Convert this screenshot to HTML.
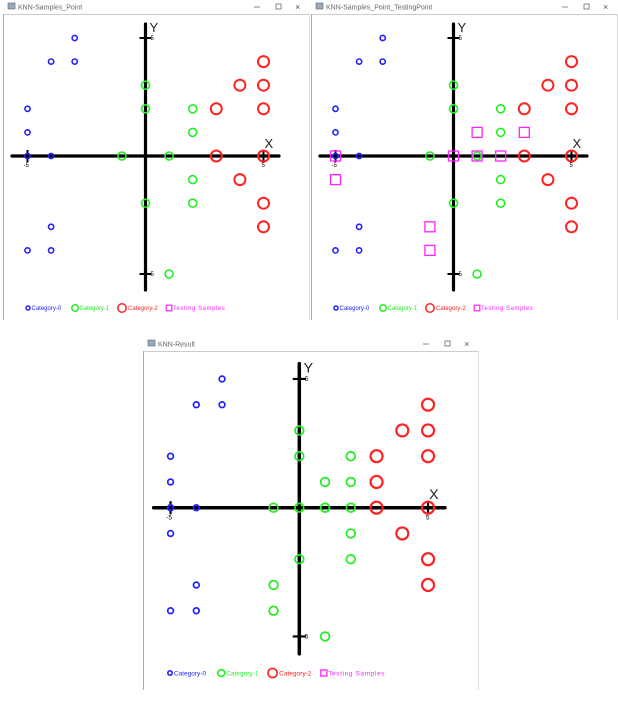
<!DOCTYPE html>
<html><head><meta charset="utf-8"><style>
body{margin:0;background:#fff;}
svg{display:block;font-family:"Liberation Sans",sans-serif;}
</style></head><body>
<svg id="root" width="618" height="707" viewBox="0 0 618 707" xmlns="http://www.w3.org/2000/svg"></svg>
<script>
// Sample data (category 0,1,2)
const cat0X=[-3,-4,-3,-5,-5,-5,-4,-4,-5,-4];
const cat0Y=[5,4,4,2,1,0,0,-3,-4,-4];
const cat1X=[0,0,-1,1,0,2,2,2,2,1];
const cat1Y=[3,2,0,0,-2,2,1,-1,-2,-5];
const cat2X=[5,4,5,3,5,3,5,4,5,5];
const cat2Y=[4,3,3,2,2,0,0,-1,-2,-3];
// Testing samples
const testX=[-5,-5,0,1,2,1,3,-1,-1];
const testY=[0,-1,0,0,0,1,1,-3,-4];
// Classification result per testing sample
const testCat=[0,0,1,1,1,1,2,1,1];
const tickLabels=["-5","5"];
const legendLabels=["Category-0","Category-1","Category-2","Testing Samples"];

const NS="http://www.w3.org/2000/svg";
const root=document.getElementById('root');
function mk(tag,attrs,parent,text){const e=document.createElementNS(NS,tag);for(const k in attrs)e.setAttribute(k,attrs[k]);if(text!==undefined)e.textContent=text;(parent||root).appendChild(e);return e;}
const colors=["#2222ff","#22ee22","#ff2222","#ff22ff"];
const radii=[2.6,4,5.5];

function windowFrame(x,y,w,h,title,name){
  const g=mk('g',{});
  
  
  const t=mk('g',{},g);
  
  
  mk('rect',{x:x,y:y,width:w,height:14,fill:'#fff'},t);
  mk('rect',{x:x+5,y:y+3,width:7,height:6,fill:'#9ab',stroke:'#567','stroke-width':0.6},t);
  const tt=mk('text',{x:x+15,y:y+9.5,'font-size':7,fill:'#666'},t,title);
  
  
  const mn=mk('line',{x1:x+w-56,y1:y+7,x2:x+w-50,y2:y+7,stroke:'#555','stroke-width':0.7},t);
  
  
  const mx=mk('rect',{x:x+w-34,y:y+4,width:5,height:5,fill:'none',stroke:'#555','stroke-width':0.7},t);
  
  
  const cl=mk('text',{x:x+w-15,y:y+10,'font-size':9,fill:'#555'},t,'×');
  
  
  mk('line',{x1:x,y1:y+14.5,x2:x+w,y2:y+14.5,stroke:'#ccc','stroke-width':1},g);
  mk('line',{x1:x+0.5,y1:y+14,x2:x+0.5,y2:y+h,stroke:'#aaa','stroke-width':1},g);
  mk('line',{x1:x+w-0.5,y1:y+14,x2:x+w-0.5,y2:y+h,stroke:'#ddd','stroke-width':1},g);
  return g;
}

function plot(ox,oy,u,mode,legY,legX0,name){
  const s=u/23.6;
  const g=mk('g',{});
  
  
  const sx=v=>ox+v*u, sy=v=>oy-v*u;
  const xa=mk('line',{x1:ox-133.5*s,y1:oy,x2:ox+133.5*s,y2:oy,stroke:'#000','stroke-width':3.2*s,'stroke-linecap':'round'},g);
  
  
  const ya=mk('line',{x1:ox,y1:oy-132*s,x2:ox,y2:oy+134*s,stroke:'#000','stroke-width':3.2*s,'stroke-linecap':'round'},g);
  
  
  [-5,5].forEach((v,i)=>{
    mk('line',{x1:sx(v),y1:oy-6*s,x2:sx(v),y2:oy+6*s,stroke:'#000','stroke-width':2*s},g);
    mk('line',{x1:ox-6*s,y1:sy(v),x2:ox+6*s,y2:sy(v),stroke:'#000','stroke-width':2*s},g);
    const xl=mk('text',{x:sx(v)-(v<0?4:2)*s,y:oy+11*s,'font-size':6*s,fill:'#000'},g,tickLabels[i]);
    
    
    const yl=mk('text',{x:ox+(v<0?3:5)*s,y:sy(v)+2*s,'font-size':6*s,fill:'#000'},g,tickLabels[i]);
    
    
  });
  const yt=mk('text',{x:ox+4*s,y:oy-124*s,'font-size':13*s,fill:'#222'},g,'Y');
  
  
  const xt=mk('text',{x:sx(5)+1*s,y:oy-8*s,'font-size':13*s,fill:'#222'},g,'X');
  
  
  const sets=[[cat0X,cat0Y],[cat1X,cat1Y],[cat2X,cat2Y]];
  sets.forEach((st,c)=>{
    st[0].forEach((xv,i)=>{
      const p=mk('circle',{cx:sx(xv),cy:sy(st[1][i]),r:radii[c]*s,fill:'none',stroke:colors[c],'stroke-width':(c==2?2:1.6)*s},g);
      
      
    });
  });
  if(mode==='test'){
    testX.forEach((xv,i)=>{
      const h=5*s;
      const p=mk('rect',{x:sx(xv)-h,y:sy(testY[i])-h,width:2*h,height:2*h,fill:'none',stroke:colors[3],'stroke-width':1.3*s},g);
      
      
    });
  } else if(mode==='result'){
    testX.forEach((xv,i)=>{
      const c=testCat[i];
      const p=mk('circle',{cx:sx(xv),cy:sy(testY[i]),r:radii[c]*s,fill:'none',stroke:colors[c],'stroke-width':(c==2?2:1.6)*s},g);
      
      
    });
  }
  // legend
  const lg=mk('g',{},g);
  
  
  const step=47*s;
  legendLabels.forEach((lab,i)=>{
    const lx=legX0+i*step;
    const e=mk('g',{},lg);
    
    
    let off=4*s;
    if(i<3){mk('circle',{cx:lx,cy:legY,r:[2,3.2,4.2][i]*s,fill:'none',stroke:colors[i],'stroke-width':1.5*s},e);off=[3.5,4.5,6][i]*s;}
    else mk('rect',{x:lx-2.8*s,y:legY-2.8*s,width:5.6*s,height:5.6*s,fill:'none',stroke:colors[3],'stroke-width':1.2*s},e);
    mk('text',{x:lx+off,y:legY+2.2*s,'font-size':6*s,fill:colors[i],'letter-spacing':(i<3?0:0.55)*s},e,lab);
  });
}

windowFrame(3,0,307,320,'KNN-Samples_Point','window-samples');
plot(145.5,156,23.6,'none',308,28,'chart-samples');
windowFrame(311,0,307,320,'KNN-Samples_Point_TestingPoint','window-testing');
plot(453.5,156,23.6,'test',308,336,'chart-testing');
windowFrame(143,337,336,353,'KNN-Result','window-result');
plot(299.3,507.7,25.75,'result',673,170,'chart-result');
</script>
</body></html>
